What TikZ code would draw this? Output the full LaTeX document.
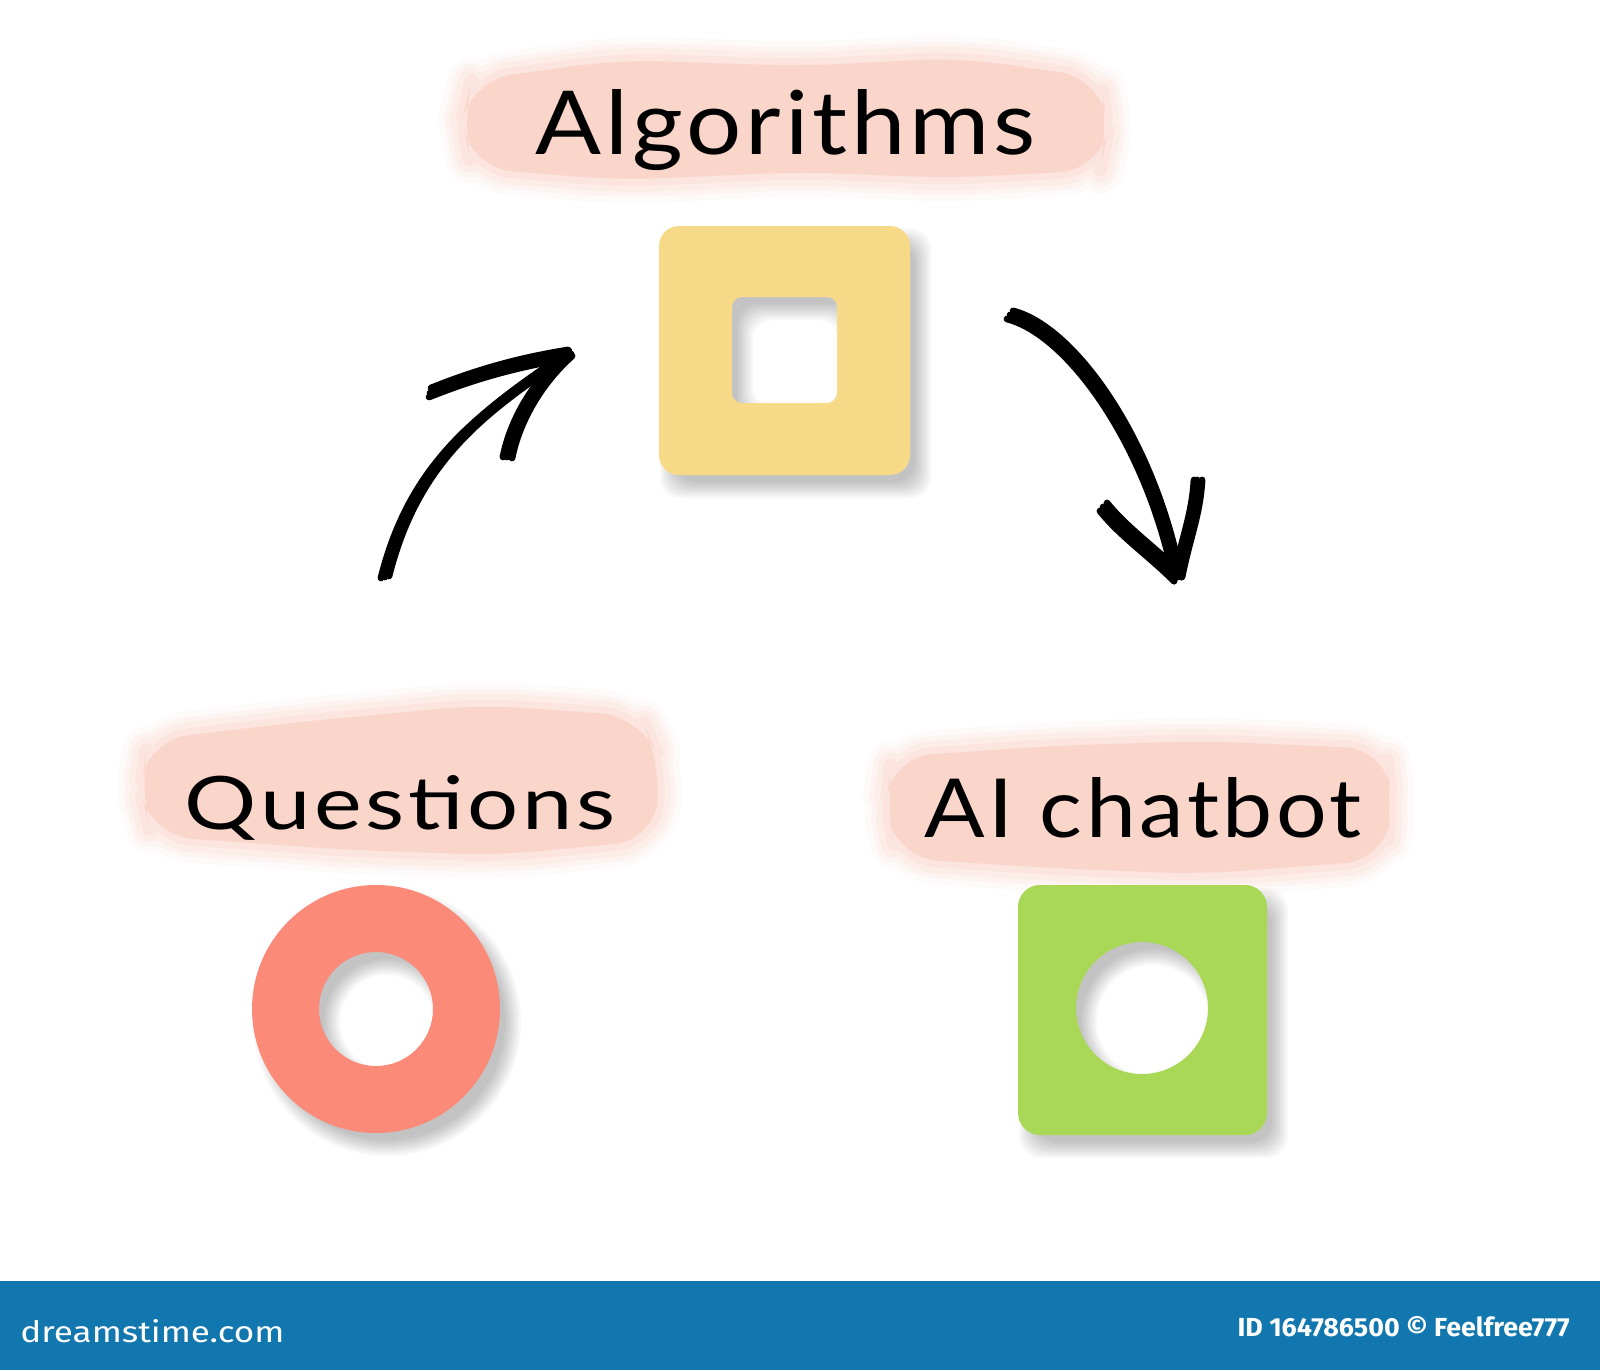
\documentclass[tikz,border=0pt]{standalone}
\usepackage{fontspec}
\usepackage{graphicx}
\newfontfamily\hand[LetterSpace=4]{Lato}
\newfontfamily\logo{Fira Sans}
\usetikzlibrary{calc}
\definecolor{plateY}{HTML}{F6DA88}
\definecolor{plateR}{HTML}{FB8B78}
\definecolor{plateG}{HTML}{A9D856}
\definecolor{brushpink}{HTML}{F9D5CA}
\definecolor{barblue}{HTML}{1177AE}
\tikzset{
  pen/.style={line width=3.4pt, line cap=round, line join=round, black},
  lbl/.style={anchor=base, inner sep=0pt, font=\hand, text=black},
  shade/.style={black, opacity=0.028, even odd rule},
}
\newcommand\brushblob[1]{%
  \foreach \w/\o in {48/0.10,36/0.15,26/0.22,14/0.32}{\draw[brushpink,opacity=\o,line width=\w*0.5pt,line join=round,rounded corners=20pt] #1;}%
  \fill[brushpink,rounded corners=20pt] #1;}
\begin{document}
\begin{tikzpicture}[x=0.5pt,y=-0.5pt]
\useasboundingbox (0,0) rectangle (1600,1370);
\fill[white] (0,0) rectangle (1600,1370);

% ---------- brush backgrounds ----------
\brushblob{(472,80) -- (620,60) -- (800,66) -- (960,58) -- (1100,78) -- (1108,130) -- (1100,170) -- (950,178) -- (800,172) -- (620,180) -- (472,168) -- (462,120) -- cycle}
\brushblob{(148,740) -- (300,722) -- (480,705) -- (640,716) -- (660,760) -- (655,840) -- (500,855) -- (350,850) -- (152,836) -- (140,790) -- cycle}
\brushblob{(892,757) -- (1050,746) -- (1200,741) -- (1385,749) -- (1392,800) -- (1385,860) -- (1200,874) -- (1050,868) -- (897,858) -- (886,805) -- cycle}

% ---------- labels ----------
\node[lbl] (alg) at (786,155) {\resizebox{250pt}{32.5pt}{Algorithms}};
\node[lbl] (que) at (400,829) {\resizebox{215pt}{27pt}{Questions}};
\node[lbl] (ai) at (1143,837) {\resizebox{219pt}{30pt}{AI chatbot}};

% ---------- yellow plate (Algorithms) ----------
\foreach \e in {-6,-4,...,10}{
  \fill[shade,rounded corners=10pt]
    (659+11-\e,226+13-\e) rectangle (910+11+\e,475+13+\e)
    (732+11+\e,297+13+\e) rectangle (837+11-\e,403+13-\e);}
\fill[plateY,even odd rule]
  [rounded corners=10pt] (659,226) rectangle (910,475)
  [rounded corners=5pt] (732,297) rectangle (837,403);
\coordinate (yplate) at (784,350);

% ---------- salmon ring (Questions) ----------
\foreach \e in {-6,-4,...,10}{
  \fill[shade] (387,1022) circle[radius=124+\e] (387,1022) circle[radius=57-\e];}
\fill[plateR,even odd rule] (376,1009) circle[radius=124] (376,1009) circle[radius=57];
\coordinate (ring) at (376,1009);

% ---------- green plate (AI chatbot) ----------
\foreach \e in {-6,-4,...,10}{
  \fill[shade,rounded corners=11pt]
    (1018+11-\e,885+13-\e) rectangle (1267+11+\e,1135+13+\e)
    (1153,1021) circle[radius=66-\e];}
\fill[plateG,even odd rule]
  [rounded corners=11pt] (1018,885) rectangle (1267,1135)
  (1142,1008) circle[radius=66];
\coordinate (gplate) at (1142,1008);

% ---------- left arrow (Questions -> Algorithms) ----------
\coordinate (a1s) at (385,577);
\coordinate (a1t) at (567,355);
\coordinate (a1u) at (430,393);
\coordinate (a1l) at (507,457);
\foreach \dx/\dy in {0/0,4/-1,-4/1,2/-4}{
  \draw[pen] ([shift={(\dx,\dy)}]a1s) .. controls +(30,-120) and +(-80,55) .. ([shift={(\dx,\dy)}]a1t);}
\foreach \dx/\dy in {0/0,1/-5,-1/4}{
  \draw[pen] ([shift={(\dx,\dy)}]a1t) .. controls +(-50,8) and +(45,-18) .. ([shift={(\dx,\dy)}]a1u);}
\foreach \dx/\dy in {0/0,5/1,-4/0}{
  \draw[pen] ([shift={(\dx,\dy)}]a1t) .. controls +(-28,25) and +(8,-40) .. ([shift={(\dx,\dy)}]a1l);}

% ---------- right arrow (Algorithms -> AI chatbot) ----------
\coordinate (a2s) at (1010,315);
\coordinate (a2t) at (1177,577);
\coordinate (a2l) at (1103,507);
\coordinate (a2r) at (1197,480);
\foreach \dx/\dy in {0/0,3/-4,-3/4,4/0}{
  \draw[pen] ([shift={(\dx,\dy)}]a2s) .. controls +(60,15) and +(-27,-137) .. ([shift={(\dx,\dy)}]a2t);}
\foreach \dx/\dy in {0/0,4/-4,-3/4}{
  \draw[pen] ([shift={(\dx,\dy)}]a2t) .. controls +(-25,-25) and +(20,25) .. ([shift={(\dx,\dy)}]a2l);}
\foreach \dx/\dy in {0/0,5/0,-3/0}{
  \draw[pen] ([shift={(\dx,\dy)}]a2t) .. controls +(8,-40) and +(-2,35) .. ([shift={(\dx,\dy)}]a2r);}

% ---------- bottom bar ----------
\fill[barblue] (0,1281) rectangle (1600,1370);
\node[anchor=base west, inner sep=0pt, text=white, font=\logo] (dt) at (20,1342) {\resizebox{132pt}{11.5pt}{dreamstime.com}};
\node[anchor=base east, inner sep=0pt, text=white, font=\logo\bfseries] (id) at (1570,1336) {\resizebox{166pt}{10pt}{ID 164786500 © Feelfree777}};
\end{tikzpicture}
\end{document}
